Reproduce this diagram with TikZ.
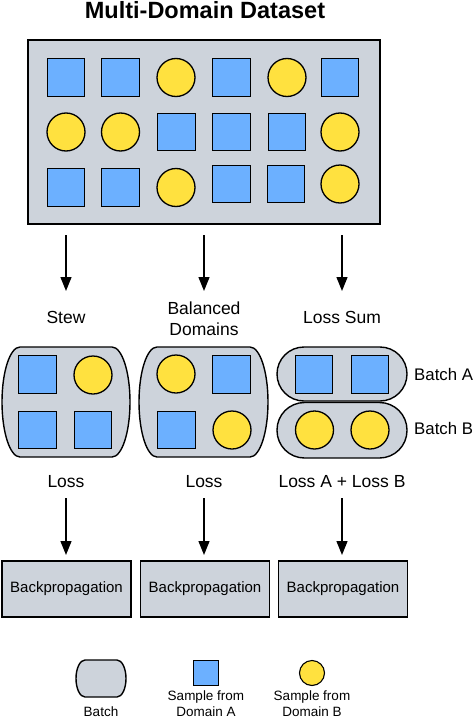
\documentclass[tikz,border=0pt]{standalone}
\usepackage{fontspec}
\setmainfont{Liberation Sans}
\usetikzlibrary{arrows.meta}
\definecolor{blueA}{HTML}{6CB0FF}
\definecolor{yellowB}{HTML}{FFE13F}
\definecolor{grayB}{HTML}{CDD3DB}
\newcommand{\bshape}[5]{% x1 y1 x2 y2 rx
  \pgfmathsetmacro{\bry}{(#4-#2)/2}%
  \draw[batchline] (#1+#5,#2) -- (#3-#5,#2)
    arc[start angle=-90,end angle=90,x radius=#5,y radius=\bry]
    -- (#1+#5,#4)
    arc[start angle=90,end angle=270,x radius=#5,y radius=\bry] -- cycle;}
\tikzset{
  sqA/.style={draw=black, fill=blueA, minimum size=37.5pt, inner sep=0pt, line width=1.3pt},
  circB/.style={circle, draw=black, fill=yellowB, minimum size=38pt, inner sep=0pt, line width=1.3pt},
  batchline/.style={draw=black, fill=grayB, line width=1.4pt},
  dsbox/.style={draw=black, fill=grayB, line width=2pt, inner sep=0pt},
  bpbox/.style={draw=black, fill=grayB, line width=1.5pt, inner sep=0pt, minimum width=129pt, minimum height=56pt, font=\fontsize{15}{18}\selectfont},
  lbl/.style={font=\fontsize{17.5}{21}\selectfont, inner sep=0pt, anchor=base},
  leg/.style={font=\fontsize{13.5}{16}\selectfont, inner sep=0pt, anchor=base},
  arr/.style={-{Triangle[width=11pt,length=14pt]}, line width=1.3pt}
}
\begin{document}
\begin{tikzpicture}[x=1pt,y=-1pt]
\useasboundingbox (0,0) rectangle (474,720);
% title
\node[font=\bfseries\fontsize{23.5}{28}\selectfont, inner sep=0pt, anchor=base] (title) at (205,19) {Multi-Domain Dataset};
% dataset
\node[dsbox, minimum width=352pt, minimum height=184pt] (ds) at (204,132) {};
\node[sqA] (d11) at (66,77.5) {};
\node[sqA] (d12) at (120.5,77.5) {};
\node[circB] (d13) at (176,77.5) {};
\node[sqA] (d14) at (231.5,77.5) {};
\node[circB] (d15) at (287,77.5) {};
\node[sqA] (d16) at (340,77.5) {};
\node[circB] (d21) at (66,132) {};
\node[circB] (d22) at (120.5,132) {};
\node[sqA] (d23) at (176.5,132) {};
\node[sqA] (d24) at (231.5,132) {};
\node[sqA] (d25) at (287,132) {};
\node[circB] (d26) at (340,132) {};
\node[sqA] (d31) at (66,187.5) {};
\node[sqA] (d32) at (120.5,187.5) {};
\node[circB] (d33) at (176,187.5) {};
\node[sqA] (d34) at (231.5,184) {};
\node[sqA] (d35) at (286,184) {};
\node[circB] (d36) at (340,184) {};
% top arrows
\coordinate (t1s) at (66,235); \coordinate (t1e) at (66,291);
\coordinate (t2s) at (204,235); \coordinate (t2e) at (204,291);
\coordinate (t3s) at (342,235); \coordinate (t3e) at (342,291);
\draw[arr] (t1s) -- (t1e);
\draw[arr] (t2s) -- (t2e);
\draw[arr] (t3s) -- (t3e);
% method labels
\node[lbl] (stew) at (66,323) {Stew};
\node[lbl] (bal1) at (204,314) {Balanced};
\node[lbl] (bal2) at (204,335) {Domains};
\node[lbl] (lsum) at (342,323) {Loss Sum};
% batches
\bshape{2}{347}{130}{457}{18}
\bshape{139}{347}{268}{457}{18}
\draw[batchline, rounded corners=27pt] (277,347) rectangle (407,401);
\draw[batchline, rounded corners=27.5pt] (277,402.5) rectangle (407,458);
% stew contents
\node[sqA] (s1) at (37.5,374.5) {};
\node[circB] (s2) at (93,375) {};
\node[sqA] (s3) at (37.5,430) {};
\node[sqA] (s4) at (93,430) {};
% balanced contents
\node[circB] (b1) at (176,374) {};
\node[sqA] (b2) at (231.5,374.5) {};
\node[sqA] (b3) at (176.5,430) {};
\node[circB] (b4) at (232,430) {};
% loss sum contents
\node[sqA] (l1) at (314,374.5) {};
\node[sqA] (l2) at (370,374.5) {};
\node[circB] (l3) at (314.5,430) {};
\node[circB] (l4) at (370,430) {};
\node[lbl, font=\fontsize{16.8}{20}\selectfont, anchor=base west] (ba) at (414,380) {Batch A};
\node[lbl, font=\fontsize{16.8}{20}\selectfont, anchor=base west] (bb) at (414,434) {Batch B};
% loss labels
\node[lbl] (loss1) at (66,487) {Loss};
\node[lbl] (loss2) at (204,487) {Loss};
\node[lbl] (loss3) at (342,487) {Loss A + Loss B};
% bottom arrows
\coordinate (u1s) at (66,498); \coordinate (u1e) at (66,555);
\coordinate (u2s) at (204,498); \coordinate (u2e) at (204,555);
\coordinate (u3s) at (342,498); \coordinate (u3e) at (342,555);
\draw[arr] (u1s) -- (u1e);
\draw[arr] (u2s) -- (u2e);
\draw[arr] (u3s) -- (u3e);
% backprop
\node[bpbox] (bp1) at (66.5,589) {Backpropagation};
\node[bpbox] (bp2) at (205,589) {Backpropagation};
\node[bpbox] (bp3) at (343,589) {Backpropagation};
% legend
\bshape{76}{660}{126}{697}{9}
\node[leg] (lgb) at (101,716) {Batch};
\node[sqA, minimum size=25pt, line width=1.1pt] (lgA) at (206,673) {};
\node[leg, align=center] (lgAt) at (206,716) {Sample from\\Domain A};
\node[circB, minimum size=25pt, line width=1.1pt] (lgB) at (312,673) {};
\node[leg, align=center] (lgBt) at (312,716) {Sample from\\Domain B};
\end{tikzpicture}
\end{document}
